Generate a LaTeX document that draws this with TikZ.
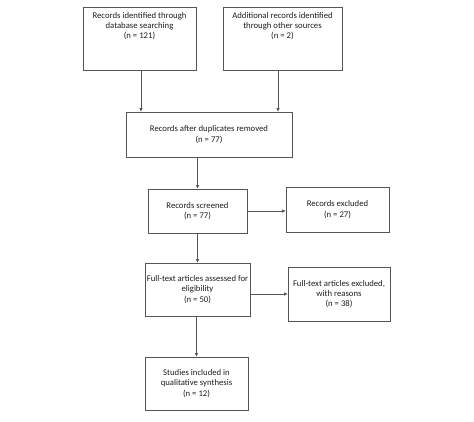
\documentclass[tikz,border=0pt]{standalone}
\usepackage{fontspec}
\setmainfont{Carlito}
\usetikzlibrary{arrows.meta}
\definecolor{linegray}{HTML}{555555}
\definecolor{txt}{HTML}{1E1E1E}
\tikzset{
  box/.style={draw=linegray, line width=1pt, fill=white, inner sep=0pt, outer sep=0pt,
    align=center, text=txt, font=\fontsize{8.7}{10.3}\selectfont},
  lbl/.style={inner sep=0pt, align=center, text=txt, font=\fontsize{8.7}{10.3}\selectfont},
  arr/.style={draw=linegray, line width=1pt, -{Latex[length=4pt,width=3.5pt]}}
}
\begin{document}
\begin{tikzpicture}[x=1pt,y=-1pt]
\useasboundingbox (0,0) rectangle (474,421);
\node[box, minimum width=113pt, minimum height=63pt] (b1) at (139.5,38.5) {};
\node[lbl, anchor=north] (t1) at ([yshift=-5pt]b1.north) {Records identified through\\database searching\\(n = 121)};
\node[box, minimum width=119pt, minimum height=63pt] (b2) at (282.5,38.5) {};
\node[lbl, anchor=north] (t2) at ([yshift=-5pt]b2.north) {Additional records identified\\through other sources\\(n = 2)};
\node[box, minimum width=166pt, minimum height=45pt] (b3) at (209,134.5) {Records after duplicates removed\\(n = 77)};
\node[box, minimum width=99pt, minimum height=44pt] (b4) at (197.5,211) {Records screened\\(n = 77)};
\node[box, minimum width=103pt, minimum height=45pt] (b5) at (337.5,209.5) {Records excluded\\(n = 27)};
\node[box, minimum width=105pt, minimum height=53pt] (b6) at (197.5,289.5) {Full-text articles assessed for\\eligibility\\(n = 50)};
\node[box, minimum width=102pt, minimum height=54pt] (b7) at (339,294) {Full-text articles excluded,\\with reasons\\(n = 38)};
\node[box, minimum width=103pt, minimum height=53pt] (b8) at (196.5,383.5) {Studies included in\\qualitative synthesis\\(n = 12)};
\draw[arr] ([xshift=1.5pt]b1.south) -- ([xshift=1.5pt]b1.south |- b3.north);
\draw[arr] ([xshift=-4.5pt]b2.south) -- ([xshift=-4.5pt]b2.south |- b3.north);
\draw[arr] (b4.north |- b3.south) -- (b4.north);
\draw[arr] (b4.east) -- (b4.east -| b5.west);
\draw[arr] (b4.south) -- (b6.north);
\draw[arr] (b7.west -| b6.east) -- (b7.west);
\draw[arr] (b6.south -| b8.north) -- (b8.north);
\end{tikzpicture}
\end{document}
